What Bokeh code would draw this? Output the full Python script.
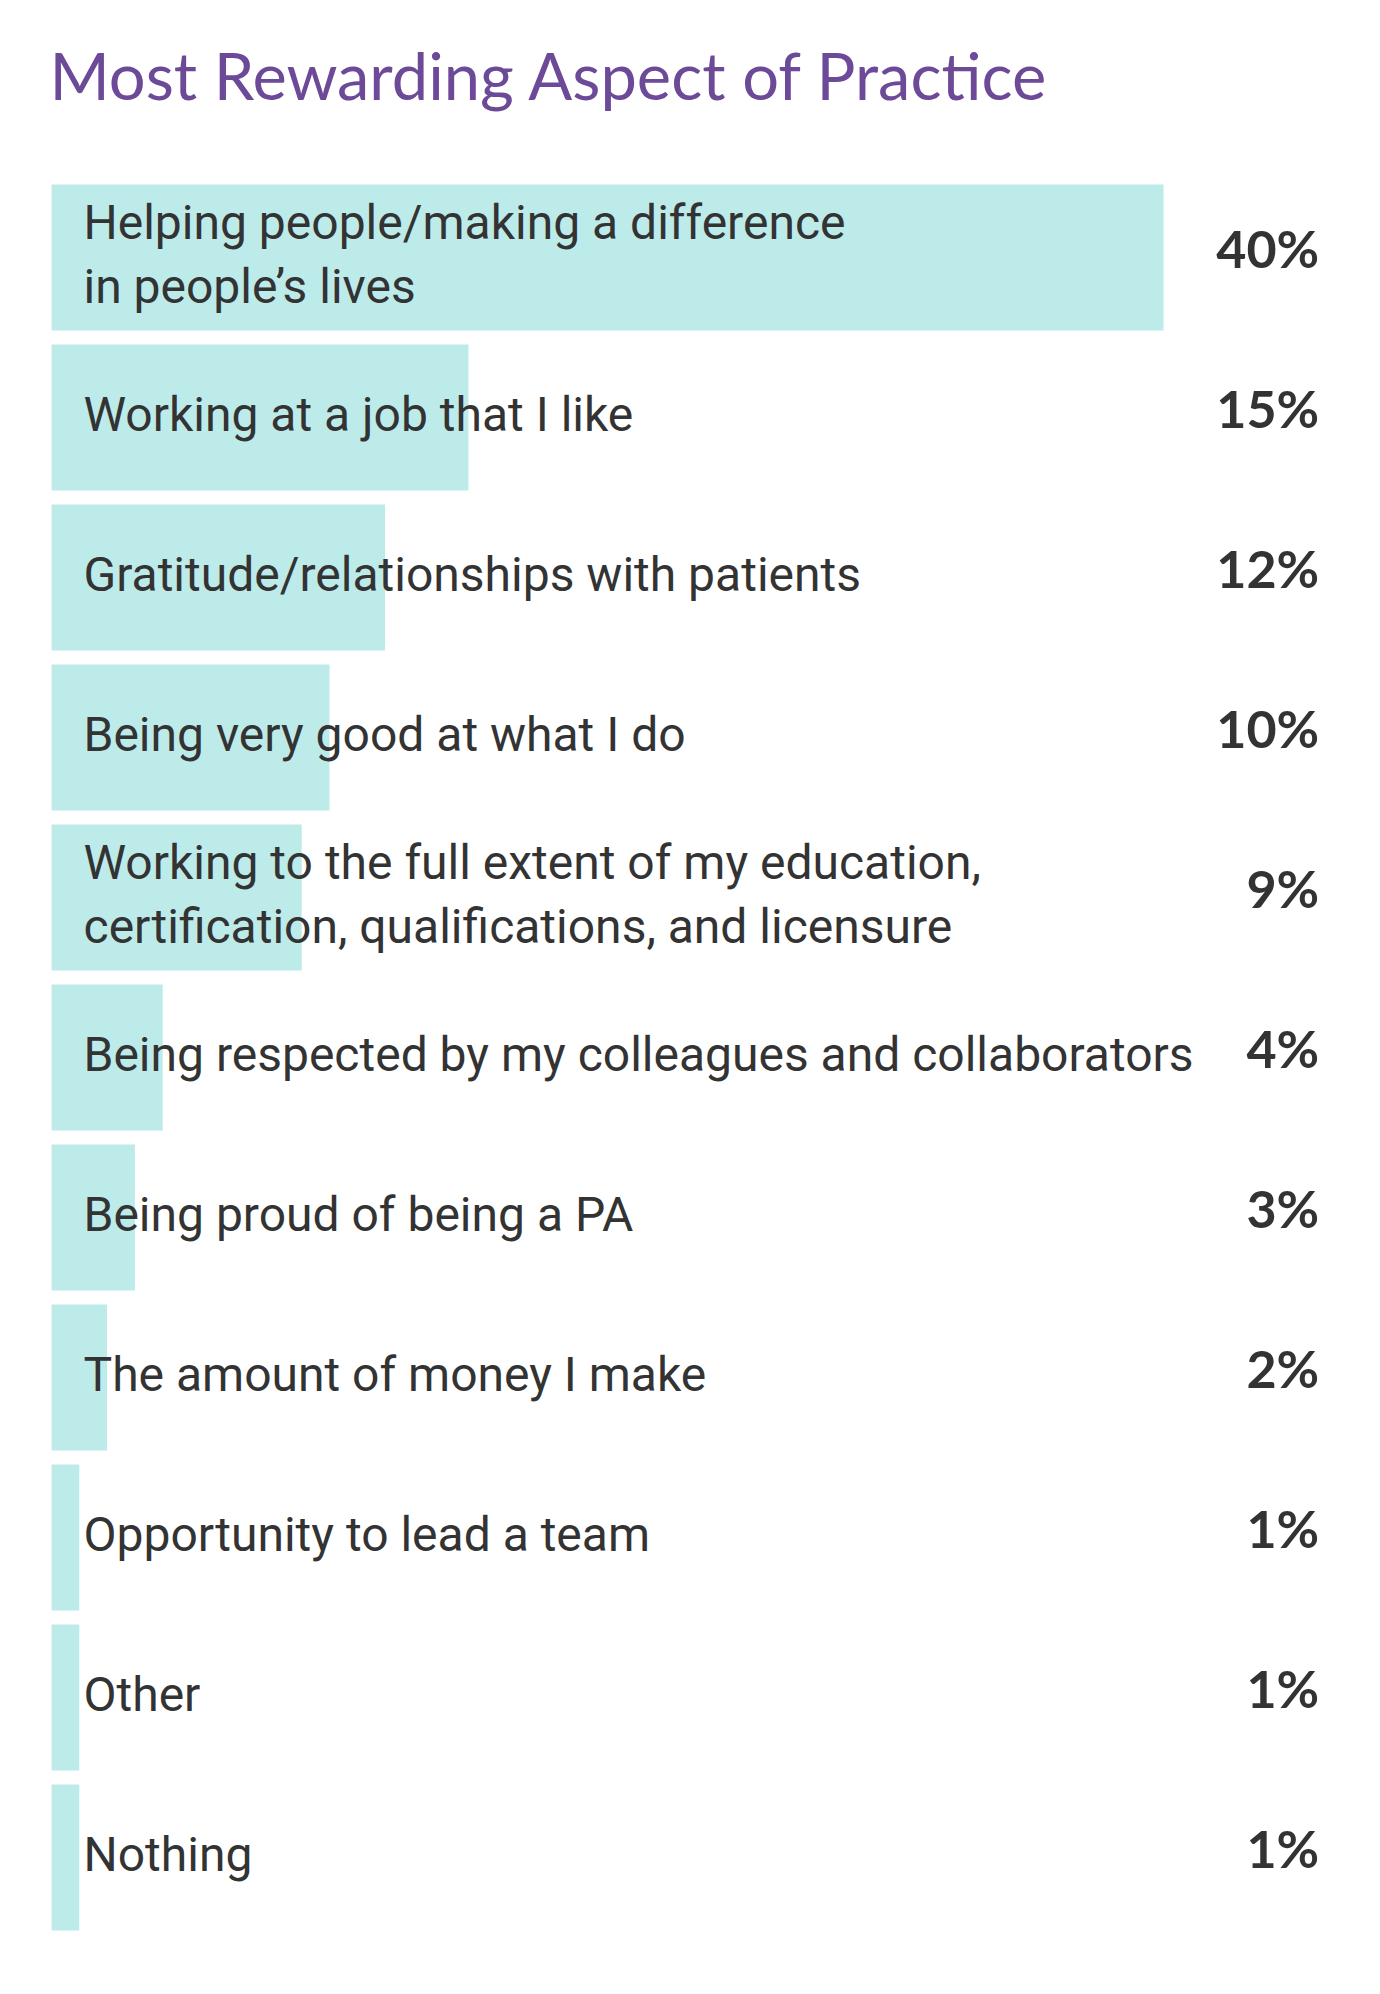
from bokeh.plotting import figure
from bokeh.models import Range1d, ColumnDataSource, Label
from bokeh.core.properties import value
from bokeh.embed import file_html
from bokeh.resources import INLINE

categories = [
    "Helping people/making a difference\nin people\u2019s lives",
    "Working at a job that I like",
    "Gratitude/relationships with patients",
    "Being very good at what I do",
    "Working to the full extent of my education,\ncertification, qualifications, and licensure",
    "Being respected by my colleagues and collaborators",
    "Being proud of being a PA",
    "The amount of money I make",
    "Opportunity to lead a team",
    "Other",
    "Nothing",
]
percents = [40, 15, 12, 10, 9, 4, 3, 2, 1, 1, 1]
value_labels = ["%d%%" % v for v in percents]

W, H = 1364, 1978
px_per_pct = 27.8
row_px = 160
x0 = -51 / px_per_pct
y_top = -257 / row_px

p = figure(width=W, height=H, output_backend="svg", toolbar_location=None,
           x_range=Range1d(x0, x0 + W / px_per_pct),
           y_range=Range1d(y_top + H / row_px, y_top),
           min_border=0)
p.axis.visible = False
p.grid.visible = False
p.outline_line_color = None
p.background_fill_color = "white"
p.border_fill_color = "white"

rows = list(range(len(categories)))
src = ColumnDataSource(dict(y=rows, right=percents, label=categories,
                            val=value_labels, vx=[45.6] * len(rows)))

p.hbar(y="y", left=0, right="right", height=0.9125, source=src,
       fill_color="#bdebea", line_color=None)

p.text(x=0, y="y", text="label", source=src, x_offset=32, y_offset=-3,
       text_font=value("Roboto"), text_font_size="48px",
       text_color="#333333", text_align="left", text_baseline="middle",
       text_line_height=1.14)

p.text(x="vx", y="y", text="val", source=src, y_offset=-10,
       text_font=value("Lato"), text_font_size="52px", text_font_style="bold",
       text_color="#333333", text_align="right", text_baseline="middle")

p.add_layout(Label(x=0, y=-1.14, text="Most Rewarding Aspect of Practice",
                   text_font="Lato", text_font_size="65px", text_color="#6c4a97",
                   text_baseline="alphabetic", text_align="left", x_offset=-2))

open("out.html", "w").write(file_html(p, INLINE))
